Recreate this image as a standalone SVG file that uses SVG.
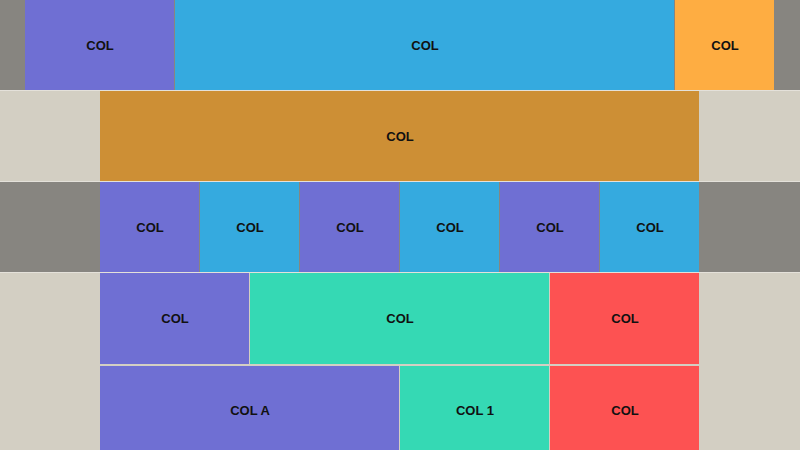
<svg xmlns="http://www.w3.org/2000/svg" width="800" height="450" viewBox="0 0 800 450">
<style>
.t{font-family:"Liberation Sans",Arial,sans-serif;font-weight:bold;font-size:13px;fill:#111;text-anchor:middle}
.p{fill:#6f6fd3}.b{fill:#35aadf}.y{fill:#fead42}.o{fill:#cd8f35}.g{fill:#35d9b4}.r{fill:#fd5252}
.gr{fill:#878580}.be{fill:#d3cfc3}
</style>
<rect width="800" height="450" fill="#e4e1da"/>
<g id="bands">
<rect class="gr" x="0" y="0" width="800" height="90"/>
<rect class="be" x="0" y="91" width="800" height="90"/>
<rect class="gr" x="0" y="182" width="800" height="90"/>
<rect class="be" x="0" y="273" width="800" height="177"/>
</g>
<g id="row1">
<g id="r1c1"><rect class="p" x="25" y="0" width="149" height="90"/><text class="t" x="100" y="49.5">COL</text></g>
<g id="r1c2"><rect class="b" x="175" y="0" width="499" height="90"/><text class="t" x="425" y="49.5">COL</text></g>
<g id="r1c3"><rect class="y" x="675" y="0" width="99" height="90"/><text class="t" x="725" y="49.5">COL</text></g>
</g>
<g id="row2">
<g id="r2c1"><rect class="o" x="100" y="91" width="599" height="90"/><text class="t" x="400" y="140.5">COL</text></g>
</g>
<g id="row3">
<g id="r3c1"><rect class="p" x="100" y="182" width="99" height="90"/><text class="t" x="150" y="231.5">COL</text></g>
<g id="r3c2"><rect class="b" x="200" y="182" width="99" height="90"/><text class="t" x="250" y="231.5">COL</text></g>
<g id="r3c3"><rect class="p" x="300" y="182" width="99" height="90"/><text class="t" x="350" y="231.5">COL</text></g>
<g id="r3c4"><rect class="b" x="400" y="182" width="99" height="90"/><text class="t" x="450" y="231.5">COL</text></g>
<g id="r3c5"><rect class="p" x="500" y="182" width="99" height="90"/><text class="t" x="550" y="231.5">COL</text></g>
<g id="r3c6"><rect class="b" x="600" y="182" width="99" height="90"/><text class="t" x="650" y="231.5">COL</text></g>
</g>
<g id="row4">
<g id="r4c1"><rect class="p" x="100" y="273" width="149" height="91"/><text class="t" x="175" y="322.5">COL</text></g>
<g id="r4c2"><rect class="g" x="250" y="273" width="299" height="91"/><text class="t" x="400" y="322.5">COL</text></g>
<g id="r4c3"><rect class="r" x="550" y="273" width="149" height="91"/><text class="t" x="625" y="322.5">COL</text></g>
</g>
<g id="row5">
<g id="r5c1"><rect class="p" x="100" y="366" width="299" height="84"/><text class="t" x="250" y="414.5">COL A</text></g>
<g id="r5c2"><rect class="g" x="400" y="366" width="149" height="84"/><text class="t" x="475" y="414.5">COL 1</text></g>
<g id="r5c3"><rect class="r" x="550" y="366" width="149" height="84"/><text class="t" x="625" y="414.5">COL</text></g>
</g>
<g id="connectors"/>
</svg>
